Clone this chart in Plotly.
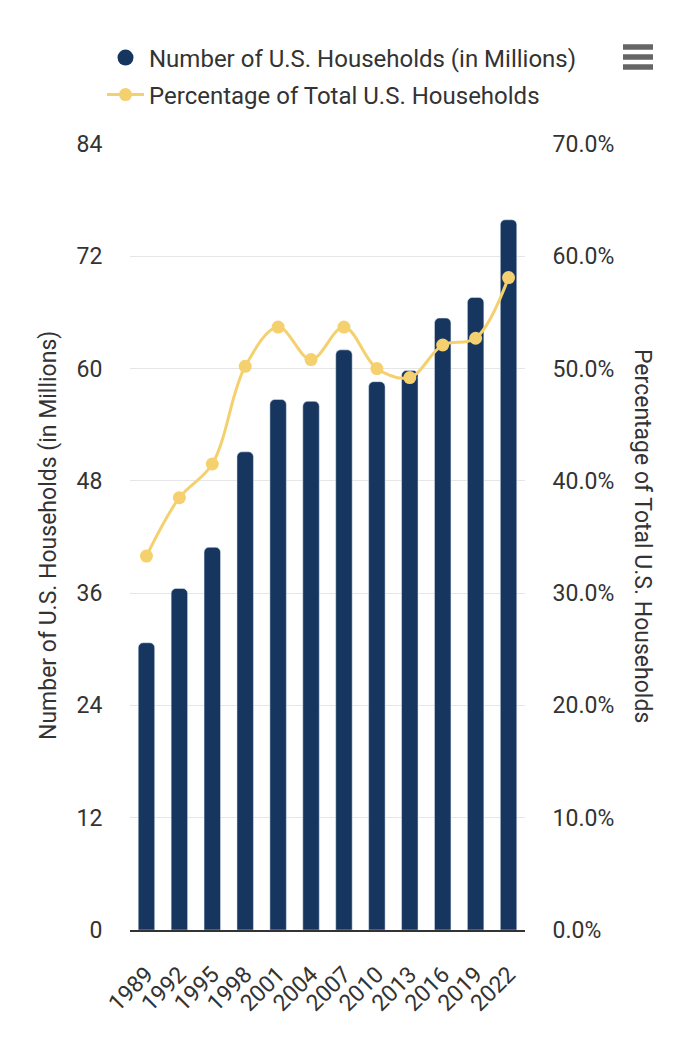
import plotly.graph_objects as go

years = ["1989", "1992", "1995", "1998", "2001", "2004", "2007", "2010", "2013", "2016", "2019", "2022"]
households_m = [30.7, 36.5, 40.9, 51.1, 56.7, 56.5, 62.0, 58.6, 59.8, 65.4, 67.6, 75.9]
pct_total = [33.3, 38.5, 41.5, 50.2, 53.7, 50.8, 53.7, 50.0, 49.2, 52.1, 52.7, 58.1]

left_ticks = [0, 12, 24, 36, 48, 60, 72, 84]
right_ticks = [0, 10, 20, 30, 40, 50, 60, 70]

bar_name = "Number of U.S. Households (in Millions)"
line_name = "Percentage of Total U.S. Households"

NAVY = "#17365f"
GOLD = "#f4d06f"
FONT = "Roboto, Arial, sans-serif"
TXT = "#333333"

fig = go.Figure()
fig.add_trace(go.Bar(x=years, y=households_m, name=bar_name, marker=dict(color=NAVY, cornerradius=5),
                     showlegend=False, yaxis="y"))
fig.add_trace(go.Scatter(x=years, y=pct_total, name=line_name, mode="lines+markers",
                         line=dict(color=GOLD, width=3, shape="spline", smoothing=1.0),
                         marker=dict(color=GOLD, size=13), showlegend=False, yaxis="y2"))
# legend proxies
fig.add_trace(go.Scatter(x=[years[0]], y=[None], name=bar_name, mode="markers", legend="legend",
                         marker=dict(color=NAVY, size=22, symbol="circle"), showlegend=True))
fig.add_trace(go.Scatter(x=[years[0]], y=[None], name=line_name, mode="lines+markers", legend="legend2",
                         line=dict(color=GOLD, width=3), marker=dict(color=GOLD, size=13), showlegend=True))

leg_common = dict(xanchor="left", yanchor="middle", font=dict(size=24, color=TXT),
                  bgcolor="rgba(0,0,0,0)", itemwidth=37)

fig.update_layout(
    width=688, height=1044,
    margin=dict(l=130, r=163, t=144, b=114, autoexpand=False),
    paper_bgcolor="white", plot_bgcolor="white",
    font=dict(family=FONT, size=22, color=TXT),
    bargap=0.5,
    legend=dict(x=(102 - 130) / 395, y=1 + (144 - 58) / 786, **leg_common),
    legend2=dict(x=(102 - 130) / 395, y=1 + (144 - 95) / 786, **leg_common),
    xaxis=dict(type="category", range=[-0.5, 11.5], tickangle=-45, tickfont=dict(size=23, color=TXT),
               automargin=False, showline=True, linecolor=TXT, linewidth=1.5, showgrid=False,
               ticks="outside", ticklen=20, tickcolor="rgba(0,0,0,0)"),
    yaxis=dict(range=[0, 84], tickvals=left_ticks, tickfont=dict(size=23, color=TXT), automargin=False,
               gridcolor="#e6e6e6", gridwidth=1, zeroline=False,
               ticks="outside", ticklen=22, tickcolor="rgba(0,0,0,0)"),
    yaxis2=dict(range=[0, 70], tickvals=right_ticks, ticktext=[f"{v:.1f}%" for v in right_ticks],
                overlaying="y", side="right", showgrid=False, zeroline=False, automargin=False,
                tickfont=dict(size=23, color=TXT),
                ticks="outside", ticklen=22, tickcolor="rgba(0,0,0,0)"),
    annotations=[
        dict(text=bar_name, xref="paper", yref="paper", x=(48 - 130) / 395, y=(930 - 536) / 786,
             textangle=-90, showarrow=False, font=dict(size=23, color=TXT),
             xanchor="center", yanchor="middle"),
        dict(text=line_name, xref="paper", yref="paper", x=(643 - 130) / 395, y=(930 - 536) / 786,
             textangle=90, showarrow=False, font=dict(size=23, color=TXT),
             xanchor="center", yanchor="middle"),
    ],
)

# hamburger menu icon
for ypx in [47, 57, 67]:
    fig.add_shape(type="line", xref="paper", yref="paper",
                  x0=(623 - 130) / 395, x1=(653 - 130) / 395,
                  y0=1 + (144 - ypx) / 786, y1=1 + (144 - ypx) / 786,
                  line=dict(color="#666666", width=5.5))

fig.write_html("out.html")
